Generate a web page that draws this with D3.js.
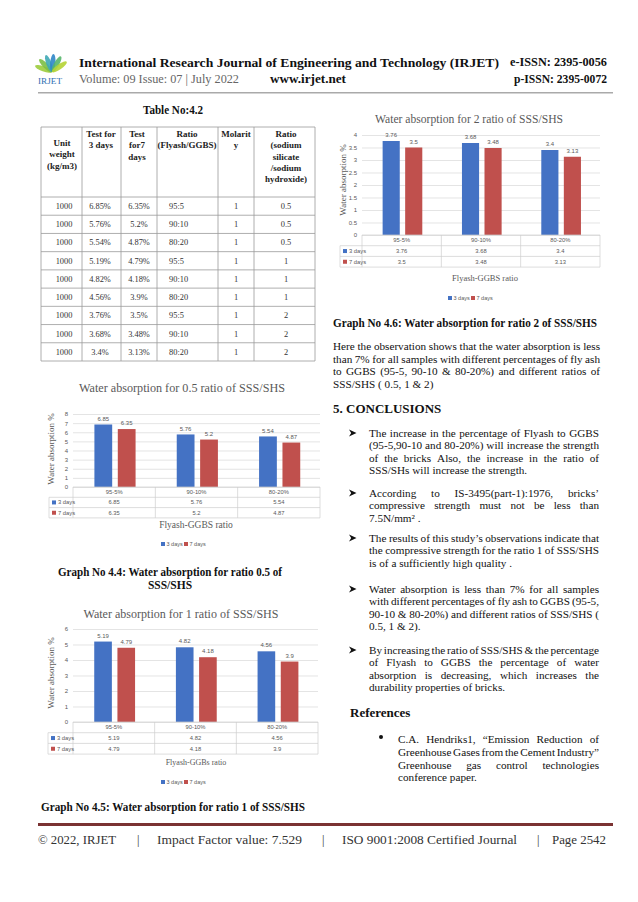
<!DOCTYPE html>
<html>
<head>
<meta charset="utf-8">
<script src="https://cdn.jsdelivr.net/npm/d3@7"></script>
<style>body{margin:0;background:#fff}</style>
</head>
<body>
<script>
// table 4.2 values
var unitWeight = [1000, 1000, 1000, 1000, 1000, 1000, 1000, 1000, 1000];
var test3Days = [6.85, 5.76, 5.54, 5.19, 4.82, 4.56, 3.76, 3.68, 3.4];
var test7Days = [6.35, 5.2, 4.87, 4.79, 4.18, 3.9, 3.5, 3.48, 3.13];
var flyashGgbs = ["95:5", "90:10", "80:20", "95:5", "90:10", "80:20", "95:5", "90:10", "80:20"];
var molarity = [1, 1, 1, 1, 1, 1, 1, 1, 1];
var silicateRatio = ["0.5", "0.5", "0.5", "1", "1", "1", "2", "2", "2"];
var tableHead = [["Unit", "weight", "(kg/m3)"], ["Test for", "3 days"], ["Test", "for7", "days"],
  ["Ratio", "(Flyash/GGBS)"], ["Molarit", "y"], ["Ratio", "(sodium", "silicate", "/sodium", "hydroxide)"]];

// charts
var categories = ["95-5%", "90-10%", "80-20%"];
var seriesNames = ["3 days", "7 days"];
var colors = ["#4472C4", "#C0504D"];
var ticks05 = [0, 1, 2, 3, 4, 5, 6, 7, 8];
var ticks1 = [0, 1, 2, 3, 4, 5, 6];
var ticks2 = [0, 0.5, 1, 1.5, 2, 2.5, 3, 3.5, 4];

var W = 638, H = 902;
var SERIF = "'Liberation Serif', 'Times New Roman', serif";
var SANS = "'Liberation Sans', Arial, sans-serif";

var svg = d3.select("body").append("svg").attr("width", W).attr("height", H);
svg.append("rect").attr("width", W).attr("height", H).attr("fill", "#fff");

function txt(g, x, y, s, o) {
  o = o || {};
  var t = g.append("text").attr("x", x).attr("y", y).attr("dy", "0.35em")
    .attr("font-family", o.family || SERIF).attr("font-size", o.size || 11.2)
    .attr("font-weight", o.weight || "normal").attr("fill", o.fill || "#111")
    .attr("text-anchor", o.anchor || "start").text(s);
  if (o.width) t.attr("textLength", o.width).attr("lengthAdjust", "spacingAndGlyphs");
  return t;
}

function justify(g, x, y, w, s, o) {
  var words = s.trim().split(/\s+/);
  var ws = words.map(function(wd) {
    var t = txt(g, 0, -50, wd, o);
    var l = t.node().getComputedTextLength();
    t.remove();
    return l;
  });
  var gap = (w - d3.sum(ws)) / (words.length - 1);
  if (words.length < 2 || gap < 1.5) return txt(g, x, y, s, Object.assign({}, o, {width: w}));
  var cx = x;
  words.forEach(function(wd, i) { txt(g, cx, y, wd, o); cx += ws[i] + gap; });
}

// ---------- header ----------
var logo = svg.append("g");
var leafCols = ["#9ccc3c", "#7cbf45", "#3fa9b5", "#2f86c6", "#56b66b", "#b5d334"];
[-70, -45, -20, 5, 30, 55].forEach(function(a, i) {
  logo.append("ellipse").attr("cx", 0).attr("cy", -9).attr("rx", 2.6).attr("ry", 9)
    .attr("fill", leafCols[i]).attr("opacity", 0.9)
    .attr("transform", "translate(52,72) rotate(" + a + ")");
});
txt(logo, 38, 81, "IRJET", {size: 8.5, fill: "#2f6fb3", width: 24});

txt(svg, 79, 62, "International Research Journal of Engineering and Technology (IRJET)", {size: 13.5, weight: "bold", width: 420});
txt(svg, 510, 62, "e-ISSN: 2395-0056", {size: 11.5, weight: "bold", width: 97});
txt(svg, 79, 79, "Volume: 09 Issue: 07 | July 2022", {size: 11.5, fill: "#666", width: 160});
txt(svg, 270, 79, "www.irjet.net", {size: 11.5, weight: "bold", width: 76});
txt(svg, 514, 79, "p-ISSN: 2395-0072", {size: 11.5, weight: "bold", width: 93});
svg.append("rect").attr("x", 38).attr("y", 92).attr("width", 575).attr("height", 1.5).attr("fill", "#aaa");

// ---------- table 4.2 ----------
txt(svg, 173, 110, "Table No:4.2", {size: 11.5, weight: "bold", anchor: "middle", width: 60});
var colEdges = [41, 82, 121, 157, 218, 254, 315];
var rowY = d3.scaleBand().domain(d3.range(unitWeight.length)).range([197, 361]);
var tb = svg.append("g").attr("stroke", "#9a9a9a").attr("stroke-width", 0.8);
tb.selectAll(".v").data(colEdges).enter().append("line")
  .attr("x1", function(d) { return d; }).attr("x2", function(d) { return d; })
  .attr("y1", 127).attr("y2", 361);
tb.selectAll(".h").data([127].concat(d3.range(unitWeight.length).map(function(i) { return rowY(i); }), [361]))
  .enter().append("line").attr("x1", 41).attr("x2", 315)
  .attr("y1", function(d) { return d; }).attr("y2", function(d) { return d; });

var headX = [62, 101, 137, 187, 236, 286];
var headY0 = [143, 134, 134, 134, 134, 134];
tableHead.forEach(function(lines, c) {
  lines.forEach(function(s, k) {
    txt(svg, headX[c], headY0[c] + k * 11.3, s, {size: 9, weight: "bold", anchor: "middle", fill: "#222"});
  });
});
var pct = function(v) { return v + "%"; };
var cellCols = [
  {vals: unitWeight, x: 64, a: "middle"},
  {vals: test3Days.map(pct), x: 100, a: "middle"},
  {vals: test7Days.map(pct), x: 139, a: "middle"},
  {vals: flyashGgbs, x: 169, a: "start"},
  {vals: molarity, x: 236, a: "middle"},
  {vals: silicateRatio, x: 286, a: "middle"}
];
cellCols.forEach(function(col) {
  col.vals.forEach(function(v, i) {
    txt(svg, col.x, rowY(i) + rowY.bandwidth() / 2, String(v), {size: 8.4, anchor: col.a, fill: "#333"});
  });
});

// ---------- bar charts ----------
function barChart(o) {
  var g = svg.append("g");
  var x = d3.scaleBand().domain(categories).range([o.left, o.right]);
  var bw = x.bandwidth();
  var xs = d3.scaleBand().domain(seriesNames).range([bw * 0.26, bw * 0.76]).paddingInner(0.24);
  var y = d3.scaleLinear().domain([0, o.ticks[o.ticks.length - 1]]).range([o.bottom, o.top]);
  var series = [o.v3, o.v7];

  var ax = g.append("g").attr("transform", "translate(" + o.left + ",0)")
    .call(d3.axisLeft(y).tickValues(o.ticks).tickSize(-(o.right - o.left)).tickPadding(5).tickFormat(d3.format("~g")));
  ax.select(".domain").remove();
  ax.selectAll("line").attr("stroke", "#d9d9d9").attr("stroke-width", 0.7);
  ax.selectAll("text").attr("font-family", SANS).attr("font-size", 6).attr("fill", "#595959");

  series.forEach(function(vals, s) {
    g.selectAll(".b" + s).data(vals).enter().append("rect")
      .attr("x", function(d, i) { return x(categories[i]) + xs(seriesNames[s]); })
      .attr("y", function(d) { return y(d); })
      .attr("width", xs.bandwidth())
      .attr("height", function(d) { return o.bottom - y(d); })
      .attr("fill", colors[s]);
    vals.forEach(function(d, i) {
      txt(g, x(categories[i]) + xs(seriesNames[s]) + xs.bandwidth() / 2, y(d) - 6, String(d),
        {family: SANS, size: 6, fill: "#595959", anchor: "middle"});
    });
  });

  // data table under the plot
  var rh = o.rowH, t0 = o.bottom;
  var tl = g.append("g").attr("stroke", "#cfcfcf").attr("stroke-width", 0.7);
  tl.append("line").attr("x1", o.left).attr("x2", o.right).attr("y1", t0).attr("y2", t0);
  [1, 2, 3].forEach(function(k) {
    tl.append("line").attr("x1", o.tableLeft).attr("x2", o.right).attr("y1", t0 + k * rh).attr("y2", t0 + k * rh);
  });
  tl.append("line").attr("x1", o.tableLeft).attr("x2", o.tableLeft).attr("y1", t0 + rh).attr("y2", t0 + 3 * rh);
  categories.concat(["end"]).forEach(function(c) {
    var xx = c === "end" ? o.right : x(c);
    tl.append("line").attr("x1", xx).attr("x2", xx).attr("y1", t0).attr("y2", t0 + 3 * rh);
  });
  categories.forEach(function(c, i) {
    txt(g, x(c) + bw / 2, t0 + rh / 2, c, {family: SANS, size: 5.8, fill: "#595959", anchor: "middle"});
    series.forEach(function(vals, s) {
      txt(g, x(c) + bw / 2, t0 + (s + 1.5) * rh, String(vals[i]), {family: SANS, size: 5.8, fill: "#595959", anchor: "middle"});
    });
  });
  seriesNames.forEach(function(n, s) {
    g.append("rect").attr("x", o.tableLeft + 3).attr("y", t0 + (s + 1.5) * rh - 2).attr("width", 4).attr("height", 4).attr("fill", colors[s]);
    txt(g, o.tableLeft + 9, t0 + (s + 1.5) * rh, n, {family: SANS, size: 5.8, fill: "#595959"});
  });

  txt(g, o.titleX, o.titleY, o.title, {size: 13, fill: "#595959", anchor: "middle", width: o.titleW});
  txt(g, 0, 0, "Water absorption %", {size: 9, fill: "#595959", anchor: "middle"})
    .attr("transform", "translate(" + o.yTitleX + "," + o.yTitleY + ") rotate(-90)");
  txt(g, o.xTitleX, o.xTitleY, o.xTitle, {size: o.xTitleSize, fill: "#595959", anchor: "middle"});

  seriesNames.forEach(function(n, s) {
    var lx = o.legendX - 22 + s * 23;
    g.append("rect").attr("x", lx).attr("y", o.legendY - 2).attr("width", 4).attr("height", 4).attr("fill", colors[s]);
    txt(g, lx + 5.5, o.legendY, n, {family: SANS, size: 5.5, fill: "#595959"});
  });
}

barChart({v3: test3Days.slice(0, 3), v7: test7Days.slice(0, 3), ticks: ticks05,
  left: 73, right: 320, top: 414, bottom: 487, tableLeft: 49, rowH: 10.3,
  title: "Water absorption for 0.5 ratio of  SSS/SHS", titleX: 182, titleY: 387, titleW: 206,
  yTitleX: 51, yTitleY: 449, xTitle: "Flyash-GGBS ratio", xTitleX: 196, xTitleY: 525, xTitleSize: 9.5,
  legendX: 183, legendY: 544});

barChart({v3: test3Days.slice(3, 6), v7: test7Days.slice(3, 6), ticks: ticks1,
  left: 73, right: 318, top: 629, bottom: 722, tableLeft: 48, rowH: 10.7,
  title: "Water absorption for 1 ratio of  SSS/SHS", titleX: 181, titleY: 613, titleW: 195,
  yTitleX: 51, yTitleY: 673, xTitle: "Flyash-GGBs ratio", xTitleX: 196, xTitleY: 762, xTitleSize: 8,
  legendX: 183, legendY: 782});

barChart({v3: test3Days.slice(6, 9), v7: test7Days.slice(6, 9), ticks: ticks2,
  left: 362, right: 600, top: 135, bottom: 235, tableLeft: 340, rowH: 10.7,
  title: "Water absorption for 2 ratio of  SSS/SHS", titleX: 469, titleY: 118, titleW: 188,
  yTitleX: 343, yTitleY: 180, xTitle: "Flyash-GGBS ratio", xTitleX: 485, xTitleY: 278, xTitleSize: 8.5,
  legendX: 470, legendY: 298});

// ---------- captions ----------
txt(svg, 170, 572, "Graph No 4.4: Water absorption for ratio 0.5 of", {size: 11.5, weight: "bold", anchor: "middle", width: 224});
txt(svg, 170, 585, "SSS/SHS", {size: 11.5, weight: "bold", anchor: "middle"});
txt(svg, 41, 807, "Graph No 4.5: Water absorption for ratio 1 of SSS/SHS", {size: 11.5, weight: "bold", width: 264});
txt(svg, 333, 323, "Graph No 4.6: Water absorption for ratio 2 of SSS/SHS", {size: 11.5, weight: "bold", width: 264});

// ---------- right column text ----------
var LH = 12.5;
var paraLines = ["Here the observation shows that the water absorption is less",
  "than 7% for all samples with different percentages of fly ash",
  "to GGBS (95-5, 90-10 & 80-20%) and different ratios of",
  "SSS/SHS ( 0.5, 1 & 2)"];
paraLines.forEach(function(s, i) {
  if (i < paraLines.length - 1) justify(svg, 333, 346 + i * 12.6, 267, s, {});
  else txt(svg, 333, 346 + i * 12.6, s, {});
});
txt(svg, 333, 408, "5. CONCLUSIONS", {size: 13, weight: "bold"});

var bullets = [
  {y: 433, lines: ["The increase in the percentage of Flyash to GGBS",
    "(95-5,90-10 and 80-20%) will increase the strength",
    "of the bricks  Also, the increase in the ratio of",
    "SSS/SHs will increase the strength."]},
  {y: 493, lines: ["According to IS-3495(part-1):1976, bricks’",
    "compressive strength must not be less than",
    "7.5N/mm² ."]},
  {y: 538, lines: ["The results of this study’s observations indicate that",
    "the compressive strength for the ratio 1 of SSS/SHS",
    "is of a sufficiently high quality ."]},
  {y: 589, lines: ["Water absorption is less than 7% for all samples",
    "with different percentages of fly ash to GGBS (95-5,",
    "90-10 & 80-20%) and different ratios of SSS/SHS (",
    "0.5, 1 & 2)."]},
  {y: 650, lines: ["By increasing the ratio of SSS/SHS & the percentage",
    "of Flyash to GGBS the percentage of water",
    "absorption is decreasing, which increases the",
    "durability properties of bricks."]}
];
bullets.forEach(function(b) {
  svg.append("path").attr("d", "M0,-3.6 L7.5,0 L0,3.6 L2.2,0 Z").attr("fill", "#111")
    .attr("transform", "translate(349," + b.y + ")");
  b.lines.forEach(function(s, i) {
    if (i < b.lines.length - 1) justify(svg, 369, b.y + i * LH, 230, s, {});
    else txt(svg, 369, b.y + i * LH, s, {});
  });
});

txt(svg, 350, 712, "References", {size: 13, weight: "bold"});
var refLines = ["C.A. Hendriks1, “Emission Reduction of",
  "Greenhouse Gases from the Cement Industry”",
  "Greenhouse gas control technologies",
  "conference paper."];
svg.append("circle").attr("cx", 381).attr("cy", 737).attr("r", 2).attr("fill", "#111");
refLines.forEach(function(s, i) {
  if (i < refLines.length - 1) justify(svg, 398, 739 + i * 12.8, 201, s, {});
  else txt(svg, 398, 739 + i * 12.8, s, {});
});

// ---------- footer ----------
svg.append("rect").attr("x", 38).attr("y", 823).attr("width", 575).attr("height", 3).attr("fill", "#7a3232");
var footItems = [
  {s: "© 2022, IRJET", x: 38, w: 78},
  {s: "|", x: 137},
  {s: "Impact Factor value: 7.529", x: 157, w: 145},
  {s: "|", x: 322},
  {s: "ISO 9001:2008 Certified Journal", x: 342, w: 175},
  {s: "|", x: 537},
  {s: "Page 2542", x: 552, w: 54}
];
footItems.forEach(function(f) {
  txt(svg, f.x, 840, f.s, {size: 12.5, fill: "#333", width: f.w});
});
</script>
</body>
</html>
